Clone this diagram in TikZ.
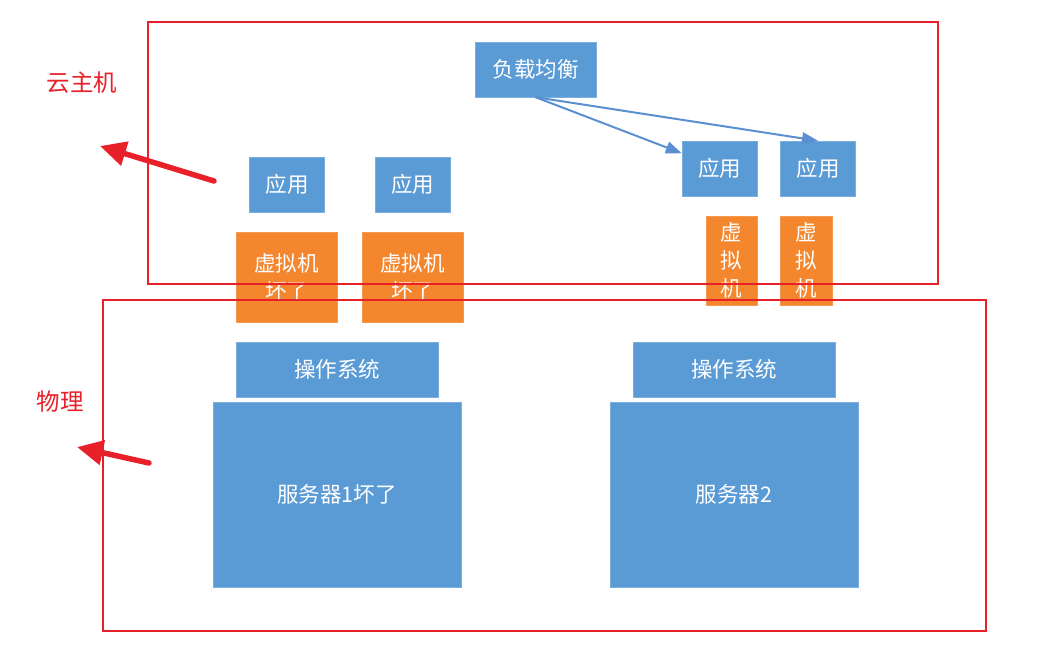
\documentclass[tikz,border=0pt]{standalone}
\usepackage{fontspec}
\setmainfont{Noto Sans CJK SC}
\usepackage{tikz}
\usetikzlibrary{arrows.meta}
\definecolor{boxblue}{HTML}{5B9BD5}
\definecolor{vmorange}{HTML}{F4862E}
\definecolor{framered}{HTML}{E8202A}
\definecolor{linkblue}{HTML}{5A8FD2}
\tikzset{blk/.style={fill=boxblue,draw=boxblue!80!white,inner sep=0pt,align=center,text=white,font=\fontsize{21.5}{25}\selectfont},vmbox/.style={blk,fill=vmorange,draw=vmorange!85!white,font=\fontsize{21.5}{28}\selectfont},frame/.style={draw=framered,line width=2.4pt},tag/.style={text=framered,font=\fontsize{23.5}{27}\selectfont},pointer/.style={-{Triangle[length=26pt,width=24pt]},line width=5.5pt,line cap=round,draw=framered},link/.style={-{Triangle[length=16pt,width=12pt]},line width=2pt,draw=linkblue}}

\begin{document}
\begin{tikzpicture}[x=1pt,y=-1pt]
\useasboundingbox (0,0) rectangle (1044,655);
\node[blk,minimum width=121pt,minimum height=55pt] (lb) at (535.5,69.5) {负载均衡};
\foreach \n/\x/\y in {appA/287/184.5,appB/412.5/184.5,appC/719.5/168.5,appD/818/168.5}{\node[blk,minimum width=75pt,minimum height=55pt] (\n) at (\x,\y) {应用};}
\node[vmbox,minimum width=101pt,minimum height=90pt] (vmA) at (286.5,277) {虚拟机\\坏了};
\node[vmbox,minimum width=101pt,minimum height=90pt] (vmB) at (412.5,277) {虚拟机\\坏了};
\node[vmbox,minimum width=51pt,minimum height=89pt] (vmC) at (731.5,260.5) {虚\\拟\\机};
\node[vmbox,minimum width=52pt,minimum height=89pt] (vmD) at (806,260.5) {虚\\拟\\机};
\node[blk,minimum width=202pt,minimum height=55pt] (osA) at (337,369.5) {操作系统};
\node[blk,minimum width=202pt,minimum height=55pt] (osB) at (734,369.5) {操作系统};
\node[blk,minimum width=248pt,minimum height=185pt] (srvA) at (337,494.5) {服务器1坏了};
\node[blk,minimum width=248pt,minimum height=185pt] (srvB) at (734,494.5) {服务器2};
\draw[link] (lb.south) -- (appC.158);
\draw[link] (lb.south) -- (appD.north);
% frames go on top of the boxes
\node[frame,inner sep=0pt,minimum width=790pt,minimum height=262pt] (cloud) at (543,153) {};
\node[frame,inner sep=0pt,minimum width=883pt,minimum height=331pt] (phys) at (544.5,465.5) {};
\node[tag] (cloudtag) at (82,83) {云主机};
\node[tag] (phystag) at (60,402) {物理};
\coordinate (cloudtail) at (214,181);
\coordinate (cloudtip) at (100,146);
\coordinate (phystail) at (149,463);
\coordinate (phystip) at (77,447);
\draw[pointer] (cloudtail) -- (cloudtip);
\draw[pointer] (phystail) -- (phystip);
\end{tikzpicture}
\end{document}
